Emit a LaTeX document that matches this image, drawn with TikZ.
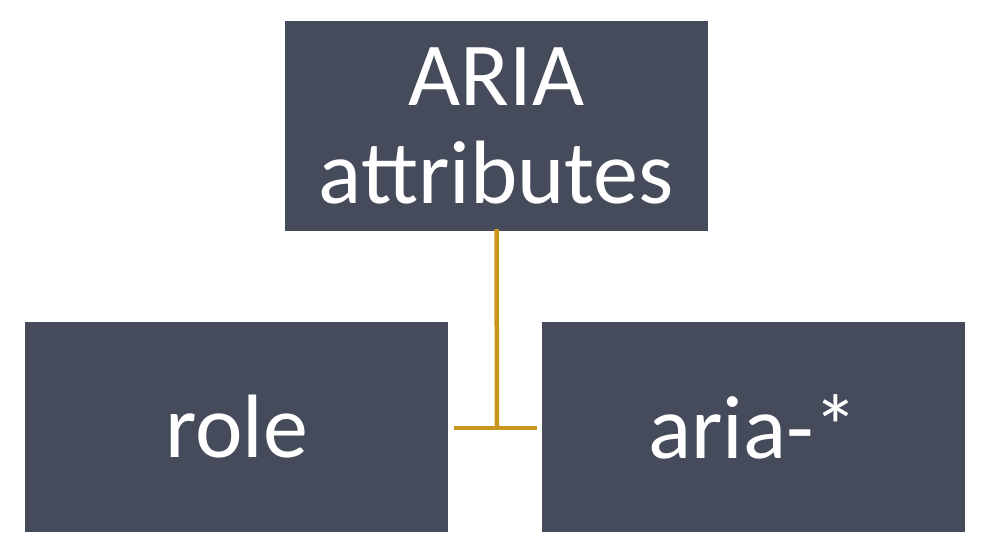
\documentclass[tikz,border=0pt]{standalone}
\usepackage{fontspec}
\setmainfont{Carlito}
\definecolor{boxfill}{HTML}{454B5B}
\definecolor{gold}{HTML}{C8961A}
\definecolor{edge}{HTML}{A0A4AC}
\begin{document}
\begin{tikzpicture}[x=1pt,y=-1pt,
  card/.style={draw=edge,line width=1pt,fill=boxfill,minimum width=425pt,minimum height=211pt,inner sep=0pt,
    text=white,font=\fontsize{90}{98}\selectfont,align=center,
    postaction={draw=white,line width=1.2pt,shorten >=0pt}},
  link/.style={draw=gold,line width=4.5pt}]
\useasboundingbox (0,0) rectangle (993,552);
\node[card] (top) at (496.5,126) {ARIA\\attributes};
\node[card] (role) at (236.5,427) {role};
\node[card] (aria) at (753.5,427) {aria-*};
\coordinate (j) at (497,428);
\draw[link] ([yshift=3pt]top.south) -- (j);
\draw[link] ([xshift=4pt]role.east |- j) -- ([xshift=-4pt]aria.west |- j);
\end{tikzpicture}
\end{document}
